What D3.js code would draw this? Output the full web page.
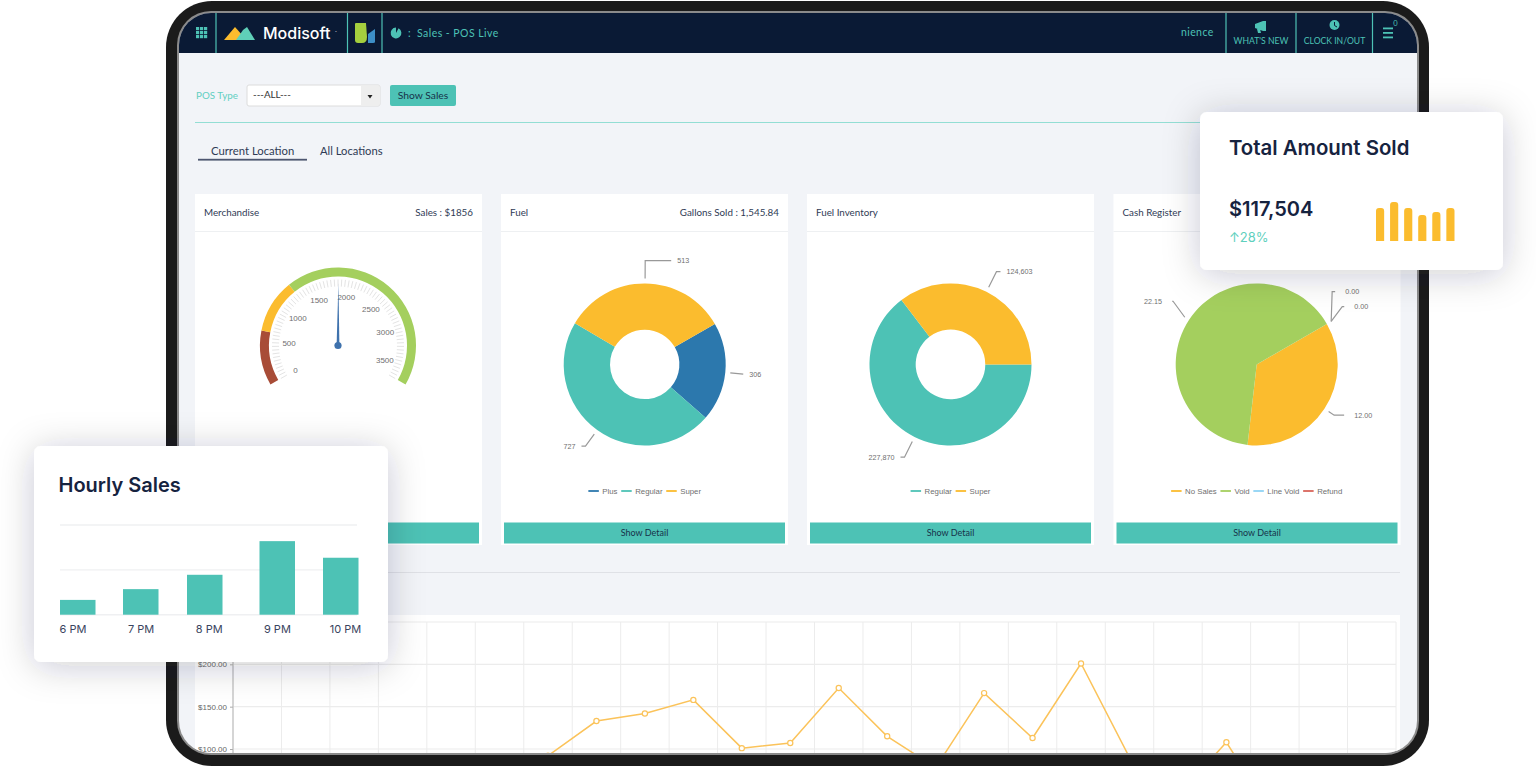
<!DOCTYPE html>
<html>
<head>
<meta charset="utf-8">
<script src="https://cdnjs.cloudflare.com/ajax/libs/d3/7.8.5/d3.min.js"></script>
<style>
	html, body { margin: 0; padding: 0; background: #fff; overflow: hidden; }
	svg { display: block; }
	text { font-family: "Lato", sans-serif; }
	.chart-label { font-family: "Liberation Sans", Arial, sans-serif; fill: #6f6f6f; }
	.float-text { font-family: "Inter", sans-serif; }
</style>
</head>
<body>
<div id="canvas"></div>
<script>
// ---- values ----
const fuelLabels = ["Plus", "Regular", "Super"];
const fuelValues = [306, 727, 513];
const inventoryLabels = ["Regular", "Super"];
const inventoryValues = [227870, 124603];
const cashLabels = ["No Sales", "Void", "Line Void", "Refund"];
const cashValues = [12.00, 22.15, 0.00, 0.00];

const gaugeTickLabels = [0, 500, 1000, 1500, 2000, 2500, 3000, 3500];
const gaugeZoneEnds = [632, 1250, 3700];
const merchandiseSales = 1856;

const hourlyLabels = ["6 PM", "7 PM", "8 PM", "9 PM", "10 PM"];
const hourlyValues = [33, 57, 89, 164, 127];
const hourlyTicks = [0, 100, 200];

const soldBars = [33, 39, 33, 26, 29, 33];

const lineSlots = [6, 7, 8, 9, 10, 11, 12, 13, 14, 15, 16, 17, 18, 19, 20, 21];
const lineValues = [92, 133, 142, 158, 101, 107, 172, 115, 78, 166, 113, 201, 90, 45, 108, 17];
const lineTicks = [100, 150, 200];

// ---- colours and layout ----
const TEAL = "#4dc2b5";
const YELLOW = "#fbbc2e";
const GREEN = "#a4cf5e";
const BLUE = "#2c78ad";
const NAVY = "#0a1a35";
const INK = "#16233f";

const width = 1536;
const height = 766;

const svg = d3.select("#canvas").append("svg")
	.attr("width", width)
	.attr("height", height)
	.attr("viewBox", [0, 0, width, height]);

const defs = svg.append("defs");

defs.append("filter")
	.attr("id", "float-shadow")
	.attr("x", "-25%").attr("y", "-35%")
	.attr("width", "150%").attr("height", "170%")
	.append("feDropShadow")
	.attr("dx", 0).attr("dy", 4)
	.attr("stdDeviation", 18)
	.attr("flood-color", "#1a2238")
	.attr("flood-opacity", 0.22);

defs.append("clipPath").attr("id", "screen-clip")
	.append("rect")
	.attr("x", 179).attr("y", 13)
	.attr("width", 1238).attr("height", 740)
	.attr("rx", 32);

// device frame
svg.append("rect")
	.attr("x", 166).attr("y", 1)
	.attr("width", 1263).attr("height", 765)
	.attr("rx", 46)
	.attr("fill", "#1b1b1b");
svg.append("rect")
	.attr("x", 177).attr("y", 11)
	.attr("width", 1242).attr("height", 744)
	.attr("rx", 34)
	.attr("fill", "#8b8b8b");

const screen = svg.append("g").attr("clip-path", "url(#screen-clip)");

screen.append("rect")
	.attr("x", 179).attr("y", 13)
	.attr("width", 1238).attr("height", 740)
	.attr("fill", "#f2f4f8");

drawHeader(screen);
drawForm(screen);

// cards
const cards = [
	{ x: 195, title: "Merchandise", note: `Sales : $${merchandiseSales}` },
	{ x: 501, title: "Fuel", note: "Gallons Sold : 1,545.84" },
	{ x: 807, title: "Fuel Inventory", note: "" },
	{ x: 1113.5, title: "Cash Register", note: "" },
];
cards.forEach((c) => drawCard(screen, c));

drawGauge(screen);

drawDonut(screen, {
	cx: 644.7, cy: 364.4, inner: 34.7, start: 60,
	labels: fuelLabels, values: fuelValues,
	colors: [BLUE, TEAL, YELLOW],
	format: d3.format(","),
	gap: 6,
	leaders: [{ elbow: 99, run: 0 }, { elbow: 101, run: 4 }, { elbow: 103.7, run: 26 }],
});
drawDonut(screen, {
	cx: 950.5, cy: 364.4, inner: 34.8, start: 90,
	labels: inventoryLabels, values: inventoryValues,
	colors: [TEAL, YELLOW],
	format: d3.format(","),
	gap: 6,
	leaders: [{ elbow: 103.6, run: 4 }, { elbow: 103.5, run: 4 }],
});
drawDonut(screen, {
	cx: 1256.7, cy: 364.4, inner: 0, start: 60,
	labels: cashLabels, values: cashValues,
	colors: [YELLOW, GREEN, "#8fd3f4", "#d9655b"],
	format: d3.format(".2f"),
	gap: 10,
	leaders: [
		{ elbow: 92.6, run: 10 },
		{ elbow: 104.8, run: 1, turn: 3.8 },
		{ elbow: 104.9, run: 3, turn: -14 },
		{ elbow: 103.2, run: 2, turn: -4 },
	],
});

// section rule above the line chart
screen.append("line")
	.attr("x1", 195).attr("x2", 1400)
	.attr("y1", 572.5).attr("y2", 572.5)
	.attr("stroke", "#dfe1e6");

drawLineChart(screen);
drawHourlyCard(svg);
drawSoldCard(svg);

function drawHeader(g) {
	g.append("rect")
		.attr("x", 179).attr("y", 13)
		.attr("width", 1238).attr("height", 40)
		.attr("fill", NAVY);

	// header separators
	g.selectAll(".sep").data([216, 347.5, 382, 1226, 1296, 1372.5]).enter()
		.append("line")
		.attr("class", "sep")
		.attr("x1", (d) => d).attr("x2", (d) => d)
		.attr("y1", 13).attr("y2", 53)
		.attr("stroke", TEAL)
		.attr("stroke-width", 1.2);

	// apps icon
	g.selectAll(".app-dot").data(d3.range(9)).enter()
		.append("rect")
		.attr("class", "app-dot")
		.attr("x", (d) => 196 + (d % 3) * 4)
		.attr("y", (d) => 27 + Math.floor(d / 3) * 4)
		.attr("width", 3.2).attr("height", 3.2)
		.attr("fill", TEAL);

	// modisoft logo
	g.append("path").attr("d", "M224,40 L235,27 L243,36 L240,40 Z").attr("fill", YELLOW);
	g.append("path").attr("d", "M236,40 L243,30 L247,27 L255,40 Z").attr("fill", "#5fd0b8");
	g.append("text")
		.attr("class", "float-text")
		.attr("x", 263).attr("y", 39)
		.attr("font-size", 16)
		.attr("font-weight", 500)
		.attr("fill", "#fff")
		.text("Modisoft");
	g.append("text")
		.attr("x", 335).attr("y", 33)
		.attr("font-size", 5)
		.attr("fill", "#fff")
		.text("-");

	// pos logo
	g.append("path").attr("d", "M355,24 Q355,23 356,23 L366,23 L367,37 Q367,43 362,43 L358,43 Q355,43 355,40 Z").attr("fill", "#a4cf3e");
	g.append("path").attr("d", "M368,34 L375,29 L375,42 Q375,43 373,43 L368,43 Z").attr("fill", "#3d8fc7");

	// sales icon and title
	const pieIcon = d3.arc().innerRadius(0).outerRadius(5.4);
	g.append("path")
		.attr("transform", "translate(396,33)")
		.attr("d", pieIcon({ startAngle: 0.5, endAngle: Math.PI * 2 }))
		.attr("fill", TEAL);
	g.append("text")
		.attr("x", 408).attr("y", 36.5)
		.attr("font-size", 10.5)
		.attr("fill", TEAL)
		.text(":");
	g.append("text")
		.attr("x", 417).attr("y", 36.5)
		.attr("font-size", 10.5)
		.attr("letter-spacing", 0.45)
		.attr("fill", TEAL)
		.text("Sales - POS Live");

	g.append("text")
		.attr("x", 1181).attr("y", 36)
		.attr("font-size", 10.5)
		.attr("letter-spacing", 0.4)
		.attr("fill", TEAL)
		.text("nience");

	// what's new
	g.append("path").attr("d", "M1255,24 L1263,21 L1266,21 L1266,31 L1263,31 L1255,28 Z M1257,29 L1260,29 L1261,33 L1258,33 Z").attr("fill", TEAL);
	g.append("text")
		.attr("x", 1261).attr("y", 43.5)
		.attr("text-anchor", "middle")
		.attr("font-size", 8.6)
		.attr("fill", TEAL)
		.text("WHAT'S NEW");

	// clock
	g.append("circle").attr("cx", 1334.5).attr("cy", 25).attr("r", 5).attr("fill", TEAL);
	g.append("path").attr("d", "M1334.5,22 V25.5 L1337,27").attr("stroke", NAVY).attr("fill", "none");
	g.append("text")
		.attr("x", 1334.5).attr("y", 43.5)
		.attr("text-anchor", "middle")
		.attr("font-size", 8.6)
		.attr("fill", TEAL)
		.text("CLOCK IN/OUT");

	// menu
	g.selectAll(".menu-bar").data([27.5, 32, 36.5]).enter()
		.append("rect")
		.attr("class", "menu-bar")
		.attr("x", 1383).attr("y", (d) => d)
		.attr("width", 10).attr("height", 1.8)
		.attr("fill", TEAL);
	g.append("text")
		.attr("x", 1395.5).attr("y", 25.5)
		.attr("text-anchor", "middle")
		.attr("font-size", 7.5)
		.attr("fill", TEAL)
		.text("0");
}

function drawForm(g) {
	g.append("text")
		.attr("x", 196).attr("y", 99)
		.attr("font-size", 9.8)
		.attr("fill", "#63cfc2")
		.text("POS Type");

	g.append("rect")
		.attr("x", 247).attr("y", 85)
		.attr("width", 133).attr("height", 21)
		.attr("rx", 2)
		.attr("fill", "#fff")
		.attr("stroke", "#dcdcdc");
	g.append("rect")
		.attr("x", 361).attr("y", 85.5)
		.attr("width", 18.5).attr("height", 20)
		.attr("fill", "#eeeeee");
	g.append("path").attr("d", "M367.5,95 L372.5,95 L370,98.5 Z").attr("fill", "#222");
	g.append("text")
		.attr("x", 253).attr("y", 97.5)
		.attr("font-size", 9.8)
		.attr("fill", "#333")
		.text("---ALL---");

	g.append("rect")
		.attr("x", 390).attr("y", 85)
		.attr("width", 66).attr("height", 21)
		.attr("rx", 2)
		.attr("fill", TEAL);
	g.append("text")
		.attr("x", 423).attr("y", 99)
		.attr("text-anchor", "middle")
		.attr("font-size", 10.3)
		.attr("fill", "#17324a")
		.text("Show Sales");

	g.append("line")
		.attr("x1", 195).attr("x2", 1400)
		.attr("y1", 122.5).attr("y2", 122.5)
		.attr("stroke", "#93ded4");

	g.append("text")
		.attr("x", 211).attr("y", 154.5)
		.attr("font-size", 11.3)
		.attr("fill", "#2f3b55")
		.text("Current Location");
	g.append("rect")
		.attr("x", 198).attr("y", 158.8)
		.attr("width", 109).attr("height", 1.8)
		.attr("fill", "#4d5670");
	g.append("text")
		.attr("x", 320).attr("y", 154.5)
		.attr("font-size", 11.2)
		.attr("fill", "#2f3b55")
		.text("All Locations");
}

function drawCard(g, c) {
	const w = 287;
	const card = g.append("g");

	card.append("rect")
		.attr("x", c.x).attr("y", 194)
		.attr("width", w).attr("height", 351)
		.attr("fill", "#fff");
	card.append("line")
		.attr("x1", c.x).attr("x2", c.x + w)
		.attr("y1", 231.5).attr("y2", 231.5)
		.attr("stroke", "#eef0f2");
	card.append("text")
		.attr("x", c.x + 9).attr("y", 215.5)
		.attr("font-size", 9.8)
		.attr("fill", "#2f3b55")
		.text(c.title);
	card.append("text")
		.attr("x", c.x + w - 9).attr("y", 215.5)
		.attr("text-anchor", "end")
		.attr("font-size", 9.8)
		.attr("fill", "#2f3b55")
		.text(c.note);
	card.append("rect")
		.attr("x", c.x + 3).attr("y", 522.5)
		.attr("width", w - 6).attr("height", 21)
		.attr("fill", TEAL);
	card.append("text")
		.attr("x", c.x + w / 2).attr("y", 536)
		.attr("text-anchor", "middle")
		.attr("font-size", 9)
		.attr("fill", "#17324a")
		.text("Show Detail");
}

function drawGauge(g) {
	const cx = 338;
	const cy = 345.5;
	const outer = 78;
	const inner = 69;
	const deg = Math.PI / 180;

	const gaugeScale = d3.scaleLinear()
		.domain([0, 3700])
		.range([-120 * deg, 120 * deg]);

	const gauge = g.append("g").attr("transform", `translate(${cx},${cy})`);
	const zoneArc = d3.arc().innerRadius(inner).outerRadius(outer);
	const zoneColors = ["#a84c37", YELLOW, GREEN];

	gauge.selectAll(".zone").data(gaugeZoneEnds).enter()
		.append("path")
		.attr("class", "zone")
		.attr("fill", (d, i) => zoneColors[i])
		.attr("d", (d, i) => zoneArc({
			startAngle: gaugeScale(i ? gaugeZoneEnds[i - 1] : 0),
			endAngle: gaugeScale(d),
		}));

	gauge.selectAll(".gauge-tick").data(gaugeScale.ticks(74)).enter()
		.append("line")
		.attr("class", "gauge-tick")
		.attr("x1", (d) => d3.pointRadial(gaugeScale(d), 59)[0])
		.attr("y1", (d) => d3.pointRadial(gaugeScale(d), 59)[1])
		.attr("x2", (d) => d3.pointRadial(gaugeScale(d), 66)[0])
		.attr("y2", (d) => d3.pointRadial(gaugeScale(d), 66)[1])
		.attr("stroke", "#e4e4e4")
		.attr("stroke-width", 1);

	gauge.selectAll(".gauge-label").data(gaugeTickLabels).enter()
		.append("text")
		.attr("class", "gauge-label chart-label")
		.attr("x", (d) => d3.pointRadial(gaugeScale(d), 49)[0])
		.attr("y", (d) => d3.pointRadial(gaugeScale(d), 49)[1] + 3)
		.attr("text-anchor", "middle")
		.attr("font-size", 8)
		.text((d) => d);

	// needle
	const tip = d3.pointRadial(gaugeScale(merchandiseSales), 62);
	gauge.append("path")
		.attr("d", `M-1.4,0 L${tip[0]},${tip[1]} L1.4,0 Z`)
		.attr("fill", "#3f72ad");
	gauge.append("circle")
		.attr("r", 3.6)
		.attr("fill", "#3f72ad");
}

function drawDonut(g, opts) {
	const outer = 81;
	const deg = Math.PI / 180;
	const chart = g.append("g").attr("transform", `translate(${opts.cx},${opts.cy})`);

	const pie = d3.pie()
		.sort(null)
		.startAngle(opts.start * deg)
		.endAngle((opts.start + 360) * deg);
	const arcs = pie(opts.values);
	const arc = d3.arc().innerRadius(opts.inner).outerRadius(outer);

	chart.selectAll(".slice").data(arcs).enter()
		.append("path")
		.attr("class", "slice")
		.attr("d", arc)
		.attr("fill", (d, i) => opts.colors[i]);

	// labels with a short leader line, like echarts draws them
	const leaderLine = d3.line();
	arcs.forEach((a, i) => {
		const mid = (a.startAngle + a.endAngle) / 2;
		const layout = opts.leaders[i];
		const side = Math.sin(mid) >= 0 ? 1 : -1;
		const p1 = d3.pointRadial(mid, outer + 5);
		const p2 = d3.pointRadial(mid + (layout.turn || 0) * deg, layout.elbow);
		const p3 = [p2[0] + side * layout.run, p2[1]];

		chart.append("path")
			.attr("d", leaderLine([p1, p2, p3]))
			.attr("fill", "none")
			.attr("stroke", "#999")
			.attr("stroke-width", 1.2);
		chart.append("text")
			.attr("class", "chart-label")
			.attr("x", p3[0] + side * opts.gap)
			.attr("y", p3[1] + 2.5)
			.attr("text-anchor", side > 0 ? "start" : "end")
			.attr("font-size", 7.2)
			.text(opts.format(opts.values[i]));
	});

	// legend, centred on the chart
	const legend = g.append("g");
	const items = legend.selectAll(".legend-item").data(opts.labels).enter()
		.append("g")
		.attr("class", "legend-item");
	items.append("line")
		.attr("x2", 10.5)
		.attr("stroke", (d, i) => opts.colors[i])
		.attr("stroke-width", 1.8);
	items.append("text")
		.attr("class", "chart-label")
		.attr("x", 14)
		.attr("y", 2.8)
		.attr("font-size", 7.8)
		.text((d) => d);

	let offset = 0;
	items.each(function () {
		const w = 14 + d3.select(this).select("text").node().getComputedTextLength();
		d3.select(this).attr("transform", `translate(${offset},0)`);
		offset += w + 3.7;
	});
	legend.attr("transform", `translate(${opts.cx - (offset - 3.7) / 2},491)`);
}

function drawLineChart(g) {
	g.append("rect")
		.attr("x", 195).attr("y", 615)
		.attr("width", 1205).attr("height", 150)
		.attr("fill", "#fff");

	const x = d3.scaleBand()
		.domain(d3.range(24))
		.range([233, 1396]);
	const y = d3.scaleLinear()
		.domain([100, 250])
		.range([749, 622]);

	const plot = g.append("g");

	plot.selectAll(".grid-v").data(d3.range(25)).enter()
		.append("line")
		.attr("class", "grid-v")
		.attr("x1", (d) => 233 + d * x.step())
		.attr("x2", (d) => 233 + d * x.step())
		.attr("y1", y(250)).attr("y2", 770)
		.attr("stroke", "#ececec");

	plot.selectAll(".grid-h").data(y.ticks(3)).enter()
		.append("line")
		.attr("class", "grid-h")
		.attr("x1", 233).attr("x2", 1396)
		.attr("y1", (d) => y(d)).attr("y2", (d) => y(d))
		.attr("stroke", "#ececec")
		.attr("stroke-width", 1.2);

	const axis = plot.append("g")
		.attr("transform", "translate(233,0)")
		.call(d3.axisLeft(y)
			.tickValues(lineTicks)
			.tickSize(3)
			.tickFormat(d3.format("$.2f")));
	axis.select(".domain").remove();
	axis.selectAll("line").attr("stroke", "#aaa");
	axis.selectAll("text")
		.attr("class", "chart-label")
		.attr("font-size", 8)
		.style("fill", "#666");
	plot.append("line")
		.attr("x1", 233).attr("x2", 233)
		.attr("y1", 660).attr("y2", 770)
		.attr("stroke", "#b5b5b5");

	const points = lineSlots.map((s, i) => [x(s) + x.bandwidth() / 2, y(lineValues[i])]);

	plot.append("path")
		.datum(points)
		.attr("d", d3.line())
		.attr("fill", "none")
		.attr("stroke", "#fbc35a")
		.attr("stroke-width", 1.5);

	plot.selectAll(".pt").data(points).enter()
		.append("circle")
		.attr("class", "pt")
		.attr("cx", (d) => d[0])
		.attr("cy", (d) => d[1])
		.attr("r", 2.6)
		.attr("fill", "#fff")
		.attr("stroke", "#fbc35a")
		.attr("stroke-width", 1.2);
}

function drawHourlyCard(root) {
	const card = root.append("g");

	card.append("rect")
		.attr("x", 34).attr("y", 446)
		.attr("width", 354).attr("height", 216)
		.attr("rx", 7)
		.attr("fill", "#fff")
		.attr("filter", "url(#float-shadow)");

	card.append("text")
		.attr("class", "float-text")
		.attr("x", 58.5).attr("y", 492)
		.attr("font-size", 20)
		.attr("font-weight", 600)
		.attr("fill", INK)
		.text("Hourly Sales");

	const y = d3.scaleLinear()
		.domain([0, 200])
		.range([614.7, 525]);
	// the bars in the picture are not evenly spaced
	const barLeft = d3.scaleOrdinal()
		.domain(hourlyLabels)
		.range([60, 123, 187, 259.5, 323]);
	const labelX = d3.scalePoint()
		.domain(hourlyLabels)
		.range([72.5, 345]);

	card.selectAll(".hourly-grid").data(hourlyTicks).enter()
		.append("line")
		.attr("class", "hourly-grid")
		.attr("x1", 60).attr("x2", 357)
		.attr("y1", (d) => y(d)).attr("y2", (d) => y(d))
		.attr("stroke", "#eff0f2")
		.attr("stroke-width", 1.4);

	card.selectAll(".hourly-bar").data(hourlyValues).enter()
		.append("rect")
		.attr("class", "hourly-bar")
		.attr("x", (d, i) => barLeft(hourlyLabels[i]))
		.attr("y", (d) => y(d))
		.attr("width", 35.5)
		.attr("height", (d) => y(0) - y(d))
		.attr("fill", TEAL);

	const axis = card.append("g")
		.attr("transform", "translate(0,622)")
		.call(d3.axisBottom(labelX).tickSize(0).tickPadding(3));
	axis.select(".domain").remove();
	axis.selectAll("text")
		.attr("class", "float-text")
		.attr("font-size", 11)
		.style("fill", "#3a4560");
}

function drawSoldCard(root) {
	const card = root.append("g");

	card.append("rect")
		.attr("x", 1200).attr("y", 112)
		.attr("width", 303).attr("height", 158)
		.attr("rx", 7)
		.attr("fill", "#fff")
		.attr("filter", "url(#float-shadow)");

	card.append("text")
		.attr("class", "float-text")
		.attr("x", 1229).attr("y", 155)
		.attr("font-size", 20.4)
		.attr("font-weight", 600)
		.attr("fill", INK)
		.text("Total Amount Sold");
	card.append("text")
		.attr("class", "float-text")
		.attr("x", 1229).attr("y", 216)
		.attr("font-size", 20)
		.attr("font-weight", 600)
		.attr("fill", INK)
		.text("$117,504");
	card.append("text")
		.attr("class", "float-text")
		.attr("x", 1229).attr("y", 241.5)
		.attr("font-size", 13)
		.attr("fill", "#5fd0bd")
		.text("↑28%");

	const x = d3.scaleBand()
		.domain(d3.range(soldBars.length))
		.range([1376, 1454.5])
		.paddingInner(0.42);
	const y = d3.scaleLinear()
		.domain([0, 39])
		.range([241, 202]);

	card.selectAll(".sold-bar").data(soldBars).enter()
		.append("path")
		.attr("class", "sold-bar")
		.attr("fill", YELLOW)
		.attr("d", (d, i) => {
			const r = 3;
			const left = x(i);
			const right = left + x.bandwidth();
			return `M${left},${y(0)} V${y(d) + r} Q${left},${y(d)} ${left + r},${y(d)} H${right - r} Q${right},${y(d)} ${right},${y(d) + r} V${y(0)} Z`;
		});
}
</script>
</body>
</html>
